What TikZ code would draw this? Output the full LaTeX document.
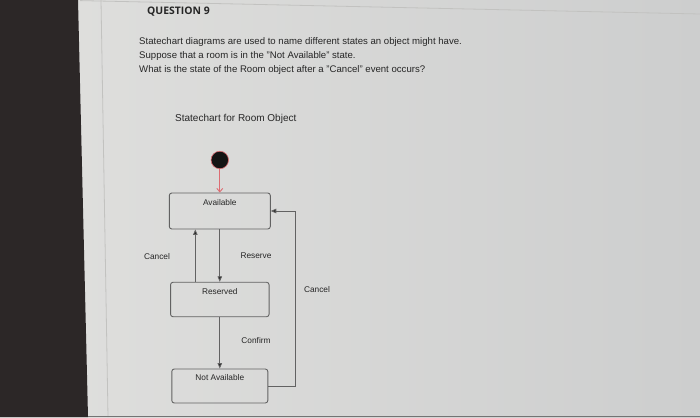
\documentclass[tikz,border=0pt]{standalone}
\usepackage{fontspec}
\setmainfont{Liberation Sans}
\newfontfamily\qfont{Open Sans}
\usetikzlibrary{arrows.meta}
\definecolor{bgL}{HTML}{E0E0DE}
\definecolor{bgR}{HTML}{CDCECE}
\definecolor{darkside}{HTML}{2C2727}
\definecolor{ink}{HTML}{262626}
\definecolor{edge}{HTML}{626262}
\definecolor{pinkarr}{HTML}{DD6C72}
\definecolor{faint}{HTML}{C2C2C0}
\begin{document}
\begin{tikzpicture}[x=1pt,y=-1pt,
  qtext/.style={font=\fontsize{9.6}{11}\selectfont,text=ink,inner sep=0pt,anchor=west},
  lbl/.style={font=\fontsize{8.3}{10}\selectfont,text=ink,inner sep=0pt},
  statebox/.style={draw=edge,line width=0.9pt,rounded corners=2.5pt,inner sep=0pt},
  tr/.style={draw=edge,line width=0.8pt,-{Triangle[length=5.5pt,width=4.5pt,fill=ink]}}]
\useasboundingbox (0,0) rectangle (700,417);
% background
\shade[left color=bgL,right color=bgR] (0,0) rectangle (700,417);
\fill[darkside] (0,0) -- (78,0) -- (88,417) -- (0,417) -- cycle;
\draw[faint,line width=0.8pt] (101,0) -- (108,417);
\draw[faint,line width=0.8pt] (80,0.6) -- (700,14);
\fill[black!55] (88,415.5) rectangle (700,417);
% heading and question
\node[font=\qfont\bfseries\fontsize{10.4}{12}\selectfont,text=black!85,anchor=west,inner sep=0pt] (qhead) at (147,12) {QUESTION 9};
\node[qtext] (q1) at (139,42.5) {Statechart diagrams are used to name different states an object might have.};
\node[qtext] (q2) at (139,56.5) {Suppose that a room is in the "Not Available" state.};
\node[qtext] (q3) at (139,70.5) {What is the state of the Room object after a "Cancel" event occurs?};
\node[font=\fontsize{10}{12}\selectfont,text=ink,anchor=west,inner sep=0pt] (title) at (175,118.5) {Statechart for Room Object};
% states
\node[circle,fill=black!92,draw=pinkarr,line width=0.6pt,minimum size=17.5pt,inner sep=0pt] (start) at (219.8,160) {};
\node[statebox,minimum width=101pt,minimum height=36pt,
  label={[lbl,anchor=north,yshift=-6.5pt]north:Available}] (avail) at (219.8,211) {};
\node[statebox,minimum width=98.5pt,minimum height=34.5pt,
  label={[lbl,anchor=north,yshift=-6.5pt]north:Reserved}] (res) at (219.8,299.5) {};
\node[statebox,minimum width=96pt,minimum height=34pt,
  label={[lbl,anchor=north,yshift=-6pt]north:Not Available}] (na) at (219.8,386) {};
% transitions
\draw[pinkarr,line width=0.9pt,-{Straight Barb[length=3.5pt,width=6pt]}] (start) -- (avail);
\draw[tr] (avail.south) -- (res.north);
\draw[tr] ([xshift=-24.5pt]res.north) -- ([xshift=-24.5pt]avail.south);
\draw[tr] (res.south) -- (na.north);
\draw[tr] (na.east) -- ++(27.5,0) |- (avail.east);
% labels
\node[lbl] (lcancelA) at (157,257) {Cancel};
\node[lbl] (lreserve) at (256,256) {Reserve};
\node[lbl] (lconfirm) at (256,341) {Confirm};
\node[lbl] (lcancelB) at (317,290) {Cancel};
\end{tikzpicture}
\end{document}
